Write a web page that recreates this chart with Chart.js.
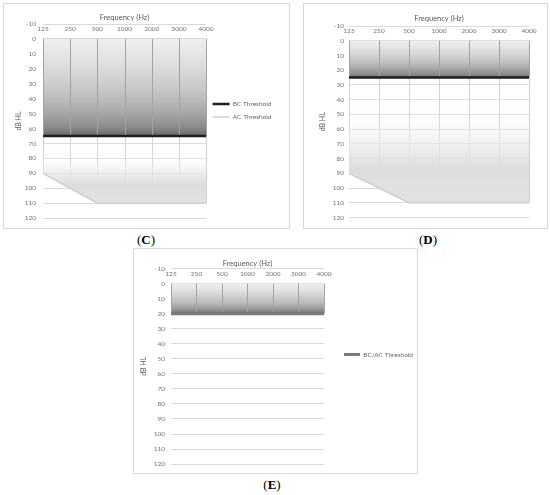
<!DOCTYPE html>
<html>
<head>
<meta charset="utf-8">
<script src="https://cdn.jsdelivr.net/npm/chart.js@4.4.1/dist/chart.umd.min.js"></script>
<style>
  html, body { margin:0; padding:0; background:#fff; }
  body { width:550px; height:495px; position:relative; overflow:hidden; }
  canvas { position:absolute; }
  .frame { position:absolute; border:1px solid #d9d9d9; box-sizing:border-box; pointer-events:none; }
  .lab { position:absolute; font-family:"Liberation Serif","DejaVu Serif",serif; font-size:13px; line-height:13px; color:#000; transform:translateX(-50%); white-space:nowrap; }
</style>
</head>
<body>
<div class="frame" style="left:3px;top:3px;width:287px;height:226px"></div>
<canvas id="cC" width="287" height="226" style="left:3px;top:3px"></canvas>
<div class="frame" style="left:303px;top:3px;width:245px;height:226px"></div>
<canvas id="cD" width="245" height="226" style="left:303px;top:3px"></canvas>
<div class="frame" style="left:133px;top:248px;width:285px;height:226px"></div>
<canvas id="cE" width="285" height="226" style="left:133px;top:248px"></canvas>
<div class="lab" style="left:146px;top:233px">(<b>C</b>)</div>
<div class="lab" style="left:428px;top:233px">(<b>D</b>)</div>
<div class="lab" style="left:272px;top:478px">(<b>E</b>)</div>
<script>
// ---- data ----
const FREQS = ['125', '250', '500', '1000', '2000', '3000', '4000'];
const DB_MIN = -10, DB_MAX = 120, DB_STEP = 10;
const BC_C = [65, 65, 65, 65, 65, 65, 65];
const AC_C = [90, 100, 110, 110, 110, 110, 110];
const BC_D = [25, 25, 25, 25, 25, 25, 25];
const AC_D = [90, 100, 110, 110, 110, 110, 110];
const BCAC_E = [20, 20, 20, 20, 20, 20, 20];

Chart.defaults.font.family = 'Lato, "Liberation Sans", sans-serif';

function upperGrad(bc) {
  const bottomVal = Math.max(...bc);
  return (c) => {
    const ch = c.chart;
    if (!ch.chartArea) return 'rgba(170,170,170,0.9)';
    const y = ch.scales.y;
    const g = ch.ctx.createLinearGradient(0, y.getPixelForValue(0), 0, y.getPixelForValue(bottomVal));
    g.addColorStop(0.00, 'rgba(238,238,238,0.94)');
    g.addColorStop(0.15, 'rgba(229,229,229,0.94)');
    g.addColorStop(0.31, 'rgba(216,216,216,0.94)');
    g.addColorStop(0.46, 'rgba(202,202,202,0.94)');
    g.addColorStop(0.62, 'rgba(184,184,184,0.94)');
    g.addColorStop(0.77, 'rgba(160,160,160,0.94)');
    g.addColorStop(0.92, 'rgba(130,130,130,0.95)');
    g.addColorStop(1.00, 'rgba(96,96,96,0.97)');
    return g;
  };
}
function lowerGrad(bc, ac) {
  const topVal = Math.max(...bc), bottomVal = Math.max(...ac);
  return (c) => {
    const ch = c.chart;
    if (!ch.chartArea) return 'rgba(220,220,220,0.5)';
    const y = ch.scales.y;
    const g = ch.ctx.createLinearGradient(0, y.getPixelForValue(topVal), 0, y.getPixelForValue(bottomVal));
    g.addColorStop(0.00, 'rgba(255,255,255,0)');
    g.addColorStop(0.35, 'rgba(245,245,245,0.25)');
    g.addColorStop(0.55, 'rgba(232,232,232,0.75)');
    g.addColorStop(0.72, 'rgba(221,221,221,1)');
    g.addColorStop(1.00, 'rgba(226,226,226,1)');
    return g;
  };
}
// vertical separators drawn through the library scales
function stems(upper, lower) {
  return {
    id: 'stems',
    beforeDatasetsDraw(chart) {
      if (!lower) return;
      const {x, y} = chart.scales, ctx = chart.ctx;
      ctx.save();
      ctx.strokeStyle = '#d0d0d0'; ctx.lineWidth = 1;
      ctx.beginPath();
      for (let i = 0; i < upper.length; i++) {
        const px = Math.round(x.getPixelForValue(i)) + 0.5;
        ctx.moveTo(px, y.getPixelForValue(upper[i]));
        ctx.lineTo(px, y.getPixelForValue(lower[i]));
      }
      ctx.stroke(); ctx.restore();
    },
    beforeDatasetDraw(chart, args) {
      if (args.index !== 0) return;
      const {x, y} = chart.scales, ctx = chart.ctx;
      ctx.save();
      ctx.strokeStyle = '#a2a2a2'; ctx.lineWidth = 1;
      ctx.beginPath();
      for (let i = 0; i < upper.length; i++) {
        const px = Math.round(x.getPixelForValue(i)) + 0.5;
        ctx.moveTo(px, y.getPixelForValue(0));
        ctx.lineTo(px, y.getPixelForValue(upper[i]));
      }
      ctx.stroke(); ctx.restore();
    }
  };
}

function build(id, o) {
  return new Chart(document.getElementById(id), {
    type: 'line',
    data: { labels: FREQS, datasets: o.datasets },
    options: {
      responsive: false,
      animation: false,
      events: [],
      layout: { padding: o.pad },
      elements: { point: { radius: 0 }, line: { tension: 0 } },
      scales: {
        x: {
          type: 'category', position: { y: DB_MIN }, offset: false,
          grid: { display: false, drawTicks: false }, border: { display: false },
          ticks: { autoSkip: false, maxRotation: 0, padding: o.xPad, color: '#737373', font: { size: 6.5 } }
        },
        y: {
          type: 'linear', position: 'left', reverse: true, min: DB_MIN, max: DB_MAX,
          ticks: { stepSize: DB_STEP, color: '#737373', font: { size: 6.5 }, padding: o.yPad },
          grid: { color: '#d9d9d9', drawTicks: false, lineWidth: 1 },
          border: { display: false },
          title: { display: true, text: 'dB HL', color: '#595959', font: { size: 7 }, padding: { top: o.yTitlePad, bottom: 0 } },
          afterFit: (s) => { s.width = o.yWidth; }
        }
      },
      plugins: {
        title: {
          display: true, text: 'Frequency (Hz)', fullSize: false, color: '#595959',
          font: { size: 7.5, weight: 'normal' }, padding: { top: o.tPad[0], bottom: o.tPad[1] }
        },
        legend: o.legend || { display: false },
        tooltip: { enabled: false }
      }
    },
    plugins: [stems(o.upper, o.lower)]
  });
}

build('cC', {
  upper: BC_C, lower: AC_C,
  pad: { left: 0, right: 8.5, top: 0, bottom: 10 },
  xPad: 1, yPad: 7, yWidth: 40, yTitlePad: 12, tPad: [10.5, 1.5],
  datasets: [
    { label: 'BC Threshold', data: BC_C, borderColor: '#1e1e1e', borderWidth: 2.5,
      fill: { value: 0 }, backgroundColor: upperGrad(BC_C) },
    { label: 'AC Threshold', data: AC_C, borderColor: '#cfcfcf', borderWidth: 1.5,
      fill: '-1', backgroundColor: lowerGrad(BC_C, AC_C) }
  ],
  legend: {
    display: true, position: 'right', align: 'start', maxWidth: 150,
    title: { display: true, text: '', font: { size: 1 }, padding: { top: 90, bottom: 0 } },
    labels: { usePointStyle: true, pointStyle: 'line', pointStyleWidth: 17, padding: 6.5,
              color: '#666', font: { size: 6.5 } }
  }
});

build('cD', {
  upper: BC_D, lower: AC_D,
  pad: { left: 0, right: 19, top: 0, bottom: 11.5 },
  xPad: 1, yPad: 5, yWidth: 46, yTitlePad: 16, tPad: [10.8, 3.2],
  datasets: [
    { label: 'BC Threshold', data: BC_D, borderColor: '#1e1e1e', borderWidth: 2.5,
      fill: { value: 0 }, backgroundColor: upperGrad(BC_D) },
    { label: 'AC Threshold', data: AC_D, borderColor: '#cfcfcf', borderWidth: 1.5,
      fill: '-1', backgroundColor: lowerGrad(BC_D, AC_D) }
  ]
});

build('cE', {
  upper: BCAC_E, lower: null,
  pad: { left: 0, right: -5, top: 0, bottom: 9 },
  xPad: 2, yPad: 6, yWidth: 38, yTitlePad: 7, tPad: [10.8, 0.7],
  datasets: [
    { label: 'BC/AC Threshold', data: BCAC_E, borderColor: '#7a7a7a', borderWidth: 3,
      fill: { value: 0 }, backgroundColor: upperGrad(BCAC_E) }
  ],
  legend: {
    display: true, position: 'right', align: 'start', maxWidth: 150,
    title: { display: true, text: '', font: { size: 1 }, padding: { top: 82, bottom: 0 } },
    labels: { usePointStyle: true, pointStyle: 'line', pointStyleWidth: 16, padding: 20,
              color: '#666', font: { size: 6.5 } }
  }
});
</script>
</body>
</html>
